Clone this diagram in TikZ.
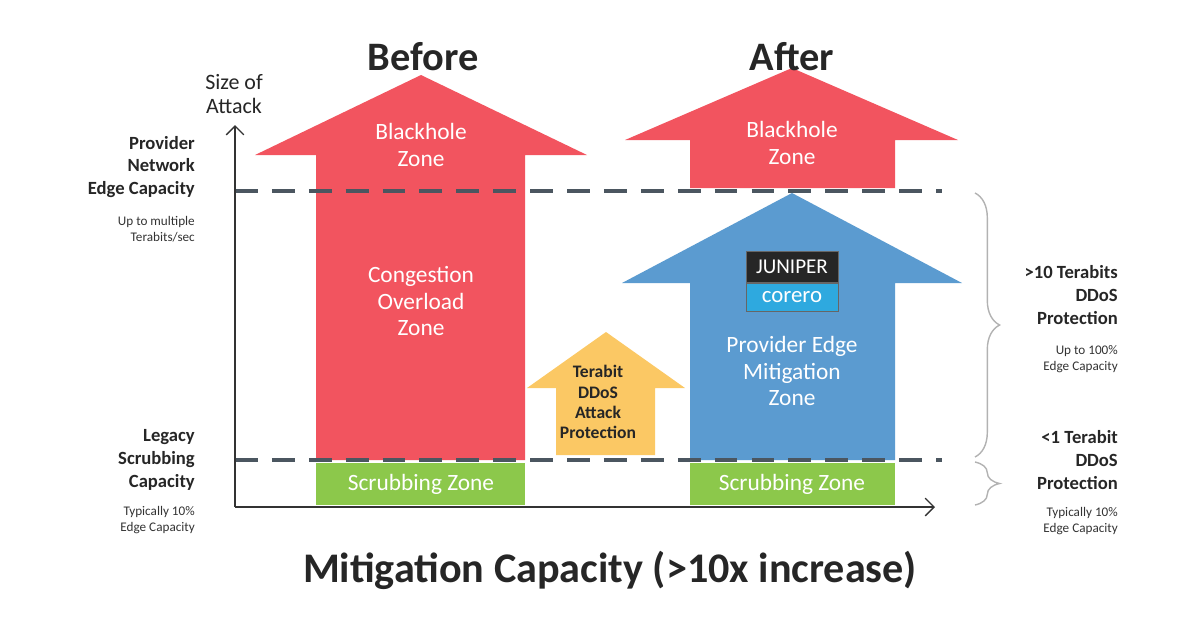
\documentclass[tikz,border=0pt]{standalone}
\usepackage{fontspec}
\setmainfont{Carlito}
\usepackage{xcolor}
\usetikzlibrary{arrows.meta,decorations.pathreplacing,positioning}
\definecolor{zonered}{HTML}{F2545F}
\definecolor{zoneblue}{HTML}{5B9BD0}
\definecolor{zonegreen}{HTML}{8CC84B}
\definecolor{zoneyellow}{HTML}{FBC864}
\definecolor{dashgray}{HTML}{4B5660}
\definecolor{corero}{HTML}{2EA9DF}
\begin{document}
\begin{tikzpicture}[x=0.02cm, y=-0.02cm,
    zone/.style={text=white, align=center, font=\fontsize{13.3}{15}\selectfont},
    side/.style={align=right, anchor=east, font=\bfseries\fontsize{10.6}{13}\selectfont, text=black!85},
    note/.style={align=right, anchor=east, font=\fontsize{7.5}{9}\selectfont, text=black!80},
    title/.style={font=\bfseries\fontsize{23}{26}\selectfont, text=black!85},
    level/.style={dashgray, line width=2.5pt, dash pattern=on 13pt off 8pt},
    axis/.style={-{Straight Barb[length=5pt]}, black!80, line width=0.8pt},
    brace/.style={decorate, decoration={brace, amplitude=14pt}, black!30, line width=0.8pt}]

    \useasboundingbox (0,0) rectangle (1200,627);

    % arrows
    \fill[zonered] (316,460) -- (316,155) -- (255,155) -- (421,75) -- (587,155) -- (525,155) -- (525,460) -- cycle;
    \fill[zonered] (690,188) -- (690,140) -- (625,140) -- (792,68) -- (958,140) -- (895,140) -- (895,188) -- cycle;
    \fill[zoneblue] (690,460) -- (690,283) -- (622,283) -- (792,193) -- (962,283) -- (895,283) -- (895,460) -- cycle;
    \fill[zoneyellow] (556,455) -- (556,388) -- (527,388) -- (606,332) -- (685,388) -- (655,388) -- (655,455) -- cycle;
    \fill[zonegreen] (316,463) rectangle (525,505);
    \fill[zonegreen] (690,463) rectangle (895,505);

    % levels and axes
    \coordinate (origin) at (235,507);
    \coordinate (ytop) at (235,125);
    \coordinate (xend) at (935,507);
    \coordinate (pl) at (235,191);
    \coordinate (pr) at (942,191);
    \coordinate (ll) at (235,460);
    \coordinate (lr) at (942,460);
    \draw[level] (pl) -- (pr);
    \draw[level] (ll) -- (lr);
    \draw[axis] (origin) -- (ytop);
    \draw[axis] (origin) -- (xend);

    % logo
    \node[fill=black!85, draw=black!60, minimum width=1.84cm, minimum height=0.62cm, inner sep=0pt,
          text=white, font=\fontsize{12}{12}\selectfont] (juniper) at (792,267) {JUNIPER};
    \node[fill=corero, draw=black!60, minimum width=1.84cm, minimum height=0.56cm, inner sep=0pt,
          text=white, font=\fontsize{13}{13}\selectfont, below=0pt of juniper] (corero) {corero};

    % zone texts
    \node[zone] (bh1) at (421,145) {Blackhole\\Zone};
    \node[zone] (cong) at (421,301) {Congestion\\Overload\\Zone};
    \node[zone] (scr1) at (421,484) {Scrubbing Zone};
    \node[zone] (bh2) at (792,143) {Blackhole\\Zone};
    \node[zone] (pem) at (792,371) {Provider Edge\\Mitigation\\Zone};
    \node[zone] (scr2) at (792,484) {Scrubbing Zone};
    \node[align=center, font=\bfseries\fontsize{10}{11.5}\selectfont, text=black!85] (tera) at (598,402) {Terabit\\DDoS\\Attack\\Protection};

    % titles
    \node[title] (before) at (423,57) {Before};
    \node[title] (after) at (792,57) {After};
    \node[font=\bfseries\fontsize{24}{27}\selectfont, text=black!85] (mit) at (610,570) {Mitigation Capacity (>10x increase)};
    \node[align=center, font=\fontsize{12.5}{14}\selectfont, text=black!85] (size) at (234,94) {Size of\\Attack};

    % left labels
    \node[side] (pnec) at (201,167) {Provider\\Network\\Edge Capacity};
    \node[note] (multi) at (201,229) {Up to multiple\\Terabits/sec};
    \node[side] (lsc) at (201,460) {Legacy\\Scrubbing\\Capacity};
    \node[note] (typ1) at (201,520) {Typically 10\%\\Edge Capacity};

    % braces and right labels
    \draw[brace] (975,193) -- (975,457);
    \draw[brace] (975,462) -- (975,505);
    \node[side] (ten) at (1124,295) {>10 Terabits\\DDoS\\Protection};
    \node[note] (full) at (1124,359) {Up to 100\%\\Edge Capacity};
    \node[side] (one) at (1124,460) {<1 Terabit\\DDoS\\Protection};
    \node[note] (typ2) at (1124,521) {Typically 10\%\\Edge Capacity};
\end{tikzpicture}
\end{document}
